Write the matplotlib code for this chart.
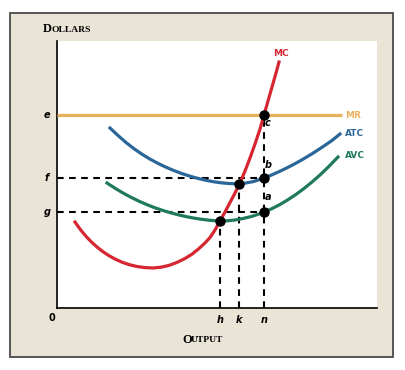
import matplotlib
matplotlib.use("Agg")
import matplotlib.pyplot as plt
from matplotlib.patches import Rectangle

# ---- data (output units, dollars units) ----
mc_x = [18, 22, 26, 30, 35, 40, 46, 52, 58, 65, 72, 80, 88, 96, 104, 112, 120, 128, 135, 142, 148, 153, 158, 163,
        168, 173, 178, 183, 188, 193, 198, 203, 207, 211, 215, 219, 222]
mc_y = [86, 80.3, 75.2, 70.6, 65.5, 61, 56.3, 52.3, 49, 45.8, 43.4, 41.5, 40.4, 40, 40.8, 42.6, 45.6, 49.5, 53.8, 59.5, 65, 70.5, 78, 87,
        96, 105.5, 115, 125, 137, 150, 164, 179, 193, 207, 221, 235, 246]

atc_x = [53, 61, 69, 77, 85, 93, 101, 109, 117, 125, 133, 141, 149, 157, 165, 173, 182, 189, 197, 207,
         215, 225, 235, 245, 255, 265, 275, 283]
atc_y = [180, 172.5, 165.5, 159.3, 153.8, 148.9, 144.6, 140.8, 137.4, 134.4, 131.8, 129.6, 127.7, 126.2, 125.1, 124.4, 124.2, 125, 126.6, 130,
         133.2, 137.7, 142.7, 148.2, 154.2, 160.7, 167.5, 174]

avc_x = [50, 58, 66, 74, 82, 90, 98, 106, 114, 122, 130, 138, 146, 154, 163, 170, 178, 186, 194, 202, 207,
         215, 223, 231, 239, 247, 255, 263, 271, 281]
avc_y = [125, 119.8, 115, 110.7, 106.8, 103.3, 100.2, 97.5, 95.1, 93, 91.2, 89.7, 88.5, 87.6, 87, 87.2, 88, 89.5, 91.4, 94, 96,
         99.4, 103.5, 108.3, 113.6, 119.5, 126, 133, 140.7, 151]

mr_x = [0, 285]
mr_y = [193, 193]

# key levels / quantities
level_names = ["e", "f", "g"]
level_vals = [193, 130, 96]
qty_names = ["h", "k", "n"]
qty_vals = [163, 182, 207]

# marked points
pts_x = [207, 207, 207, 182, 163]
pts_y = [193, 130, 96, 124.2, 87]

C_MC = "#d62631"
C_ATC = "#2b6698"
C_AVC = "#1f7a58"
C_MR = "#e8b15c"
BEIGE = "#eae4d7"

fig = plt.figure(figsize=(4.06, 3.70), dpi=100)
fig.patch.set_facecolor("white")
W, H = 406, 370
fig.patches.append(Rectangle((10 / W, (H - 357) / H), 383 / W, 344 / H,
                             transform=fig.transFigure, facecolor=BEIGE,
                             edgecolor="#4a4a4a", linewidth=1.3, zorder=-5))

ax = fig.add_axes([57 / W, (H - 308) / H, 320 / W, 267 / H])
ax.set_zorder(2)
ax.set_facecolor("white")
ax.set_xlim(0, 320)
ax.set_ylim(0, 267)
for s in ["top", "right"]:
    ax.spines[s].set_visible(False)
for s in ["left", "bottom"]:
    ax.spines[s].set_linewidth(1.2)
    ax.spines[s].set_color("black")
ax.set_xticks([])
ax.set_yticks([])

dash = dict(color="black", linewidth=1.5, linestyle=(0, (3.2, 2.6)), zorder=2)
ax.plot([0, qty_vals[2]], [level_vals[1]] * 2, **dash)
ax.plot([0, qty_vals[2]], [level_vals[2]] * 2, **dash)
ax.plot([qty_vals[2]] * 2, [0, level_vals[0]], **dash)
ax.plot([qty_vals[1]] * 2, [0, pts_y[3]], **dash)
ax.plot([qty_vals[0]] * 2, [0, pts_y[4]], **dash)

lw = 2.3
ax.plot(mr_x, mr_y, color=C_MR, lw=lw, solid_capstyle="butt", zorder=3)
ax.plot(atc_x, atc_y, color=C_ATC, lw=lw, solid_joinstyle="round", zorder=3)
ax.plot(avc_x, avc_y, color=C_AVC, lw=lw, solid_joinstyle="round", zorder=3)
ax.plot(mc_x, mc_y, color=C_MC, lw=lw, solid_joinstyle="round", zorder=4)

ax.plot(pts_x, pts_y, "o", color="black", markersize=6.5, zorder=5, clip_on=False)

lab = dict(fontsize=6.5, fontweight="bold", family="DejaVu Sans")
ax.text(224, 254, "MC", color=C_MC, ha="center", va="center", **lab)
ax.text(288, 193, "MR", color=C_MR, ha="left", va="center", **lab)
ax.text(288, 175, "ATC", color=C_ATC, ha="left", va="center", **lab)
ax.text(288, 153, "AVC", color=C_AVC, ha="left", va="center", **lab)

plab = dict(fontsize=7, fontweight="bold", style="italic", color="black")
ax.text(211, 185, "c", ha="center", va="center", **plab)
ax.text(211, 143, "b", ha="center", va="center", **plab)
ax.text(211, 111, "a", ha="center", va="center", **plab)

for n, v in zip(level_names, level_vals):
    ax.text(-10, v, n, ha="center", va="center", clip_on=False, **plab)
for n, v in zip(qty_names, qty_vals):
    ax.text(v, -12, n, ha="center", va="center", clip_on=False, **plab)
ax.text(-5, -10, "0", ha="center", va="center", fontsize=7, fontweight="bold")

serif = dict(family="Liberation Serif", fontweight="bold", color="black")
fig.text(43 / W, 1 - 29 / H, "D", fontsize=9, ha="left", va="center", **serif)
fig.text(51.5 / W, 1 - 29.5 / H, "OLLARS", fontsize=6.8, ha="left", va="center", **serif)
fig.text(182 / W, 1 - 340 / H, "O", fontsize=9, ha="left", va="center", **serif)
fig.text(191 / W, 1 - 340.5 / H, "UTPUT", fontsize=6.8, ha="left", va="center", **serif)

fig.savefig("out.png", dpi=100, facecolor="white")
